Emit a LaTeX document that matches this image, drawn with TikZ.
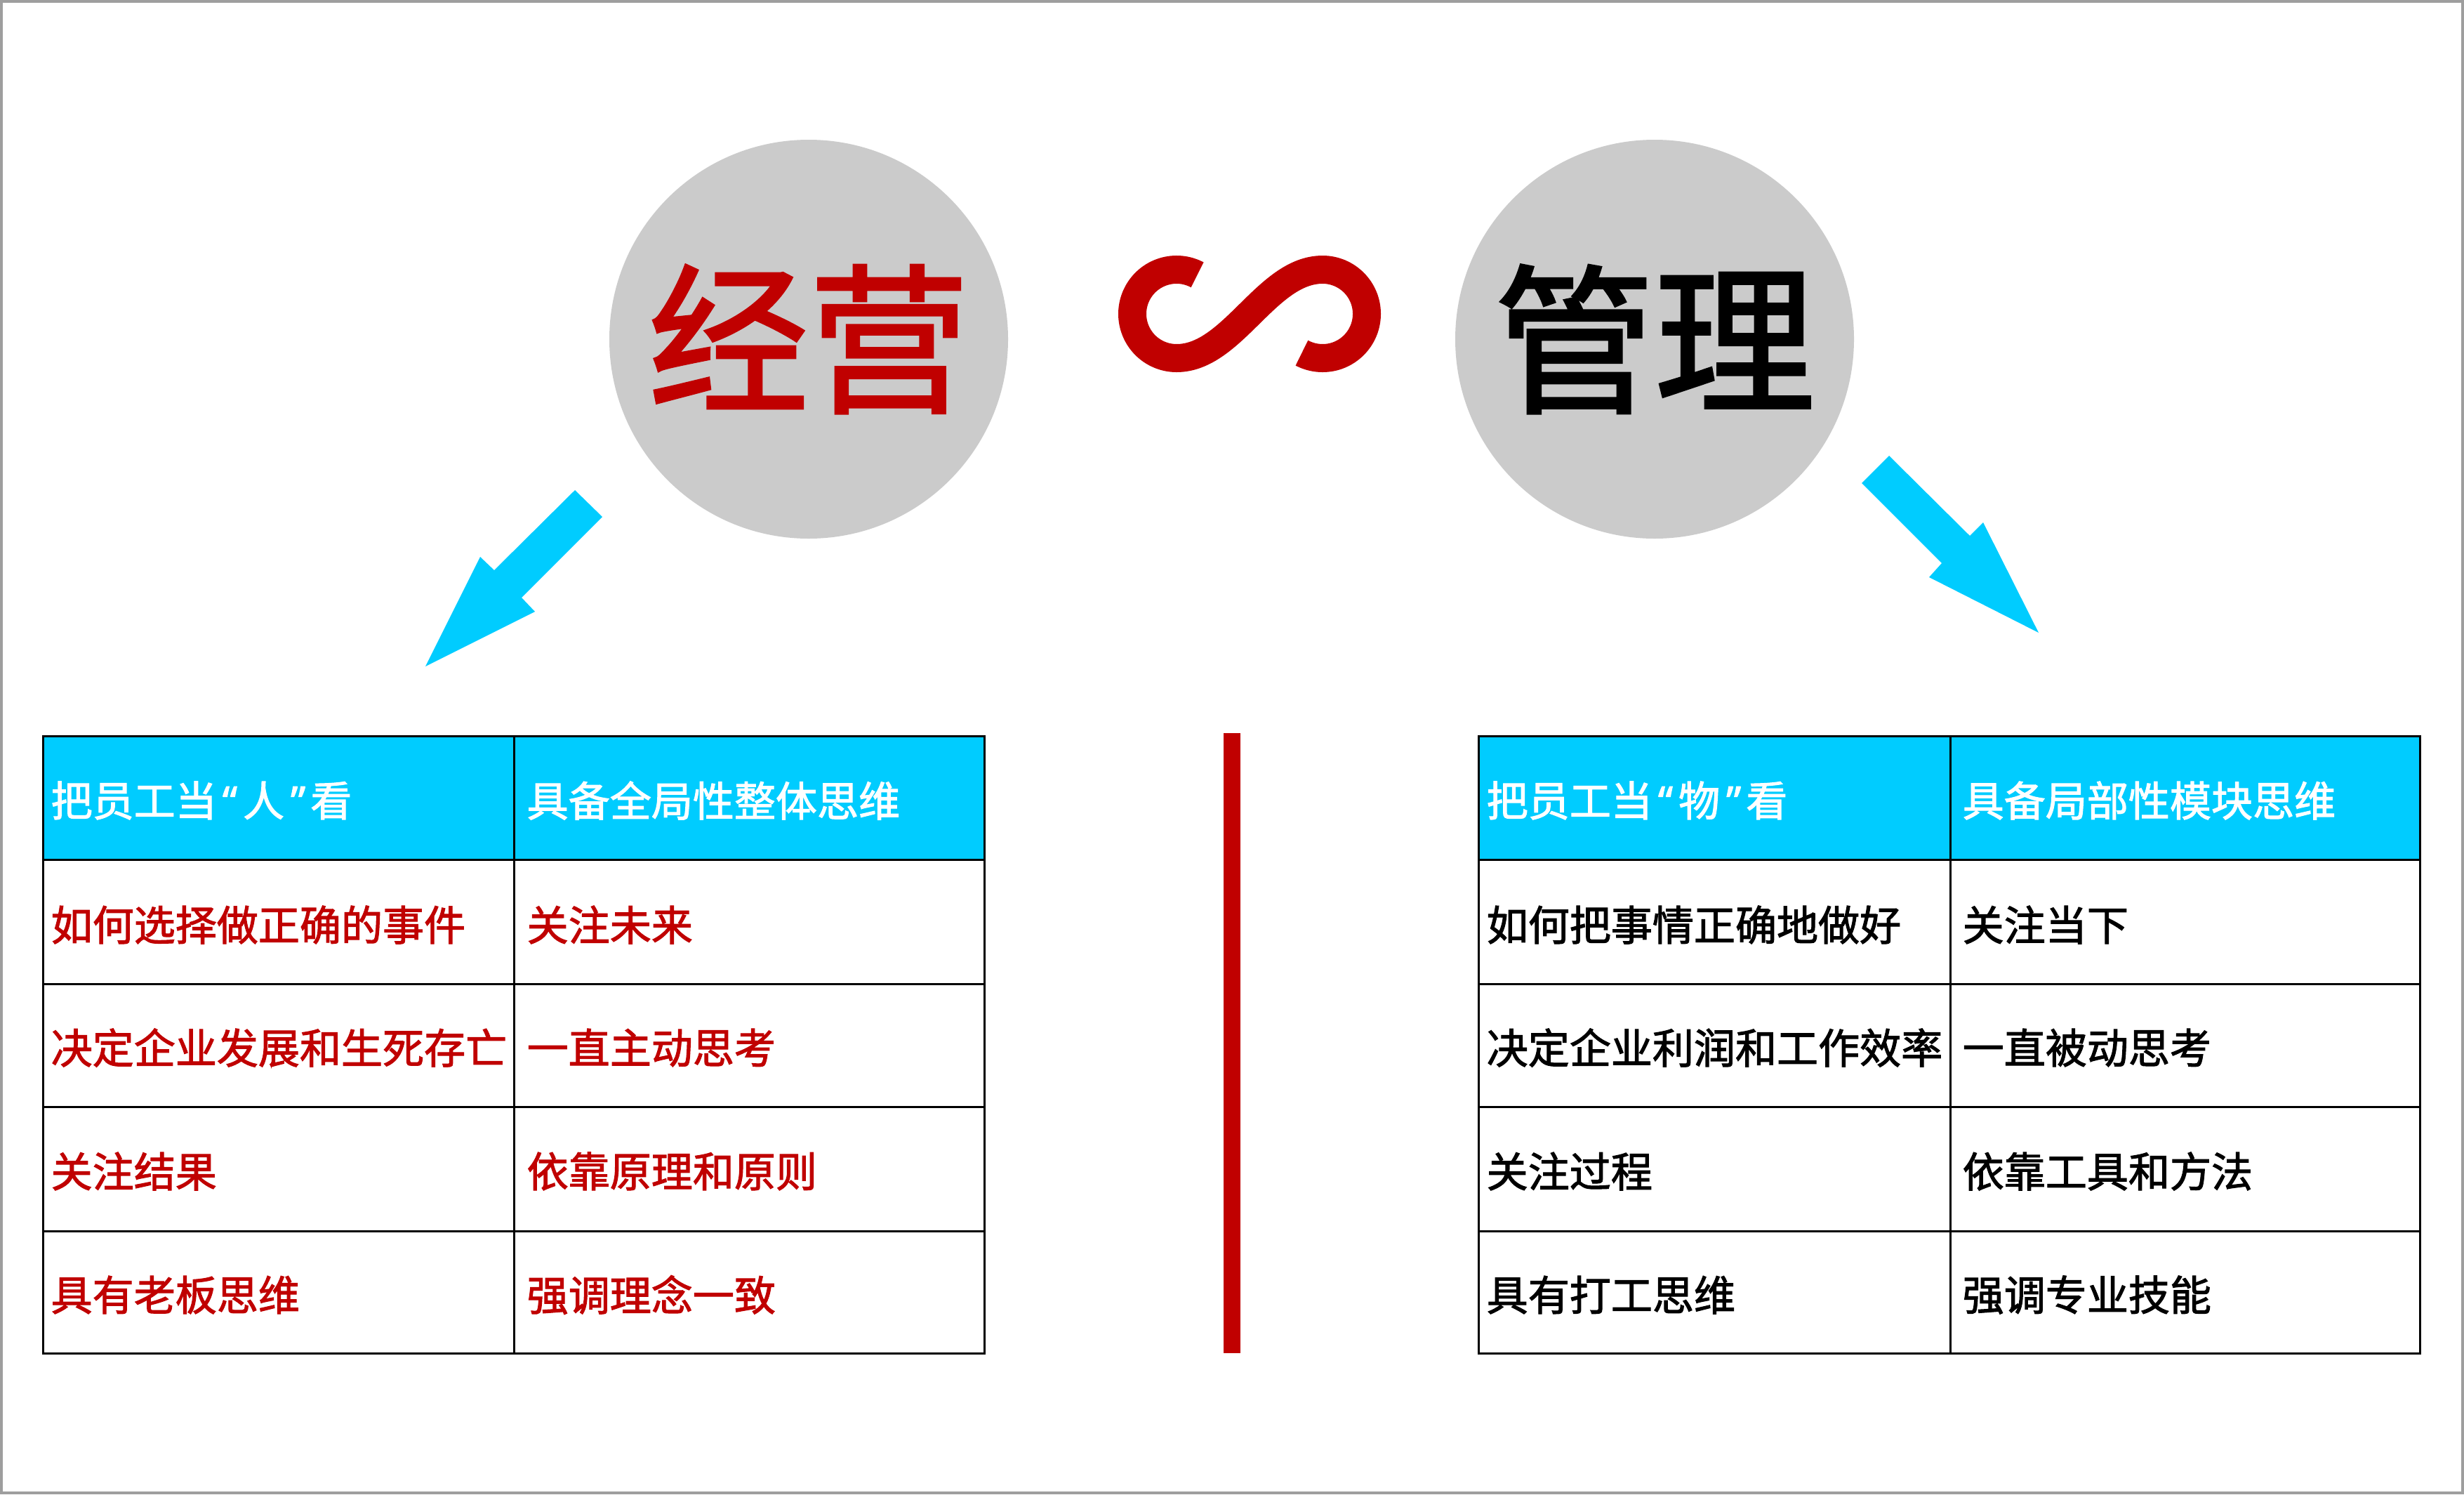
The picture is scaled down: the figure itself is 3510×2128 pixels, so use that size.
\documentclass[tikz,border=0pt]{standalone}
\usepackage{fontspec}
\newfontfamily\cjk[FakeBold=1.8]{Noto Sans CJK SC}
\newfontfamily\latq[FakeBold=1.8]{Noto Sans}
\newcommand{\myLq}{\hspace{0.8mm}{\latq “}\hspace{0.8mm}}
\newcommand{\myRq}{\hspace{0.9mm}{\latq ”}\hspace{0.7mm}}
\definecolor{myred}{HTML}{C00000}
\definecolor{mycyan}{HTML}{00CCFF}
\definecolor{mygrey}{HTML}{CBCBCB}
\definecolor{framegrey}{HTML}{9E9E9E}
\tikzset{
  cell/.style={anchor=west, inner sep=0pt, font=\cjk\fontsize{16.8}{20}\selectfont},
  hdr/.style={cell, text=white},
  lred/.style={cell, text=myred},
  rblk/.style={cell, text=black},
  bigc/.style={circle, fill=mygrey, minimum size=56.8mm, inner sep=0pt, font=\cjk\fontsize{65}{70}\selectfont},
  gridline/.style={line width=0.3mm, black},
  cyanarrow/.style={fill=mycyan},
}
\begin{document}
\begin{tikzpicture}[x=0.1mm,y=-0.1mm]
\useasboundingbox (0,0) rectangle (3510,2128);
\fill[white] (0,0) rectangle (3510,2128);
\draw[framegrey, line width=0.4mm] (2,2) rectangle (3508,2126);

% circles with titles
\node[bigc, text=myred] (jy) at (1152,483) {经营};
\node[bigc, text=black] (gl) at (2357,483) {管理};

% infinity symbol
\draw[myred, line width=4mm] (1676,447) ++(-62:63)
  arc[start angle=-62, end angle=-270, radius=63]
  .. controls +(80,0) and (1804,384) .. (1884,384)
  arc[start angle=-90, end angle=118, radius=63];

% arrows
\fill[cyanarrow] (819,698) -- (858,736) -- (743,851) -- (762,871) -- (606,949) -- (684,793) -- (704,812) -- cycle;
\fill[cyanarrow] (2691,649) -- (2652,688) -- (2766,802) -- (2748,822) -- (2904,901) -- (2825,744) -- (2806,763) -- cycle;

% red divider
\coordinate (dtop) at (1755,1044);
\coordinate (dbot) at (1755,1927);
\draw[myred, line width=2.4mm] (dtop) -- (dbot);

% left table
\fill[mycyan] (61,1048) rectangle (1402,1224);
\draw[gridline] (61,1048) rectangle (1402,1927);
\foreach \y in {1224,1401,1576,1753} \draw[gridline] (61,\y) -- (1402,\y);
\draw[gridline] (732,1048) -- (732,1927);

\node[hdr]  (la1) at (72,1140) {把员工当\myLq 人\myRq 看};
\node[hdr]  (lb1) at (750,1140) {具备全局性整体思维};
\node[lred] (la2) at (72,1317) {如何选择做正确的事件};
\node[lred] (lb2) at (750,1317) {关注未来};
\node[lred] (la3) at (72,1492) {决定企业发展和生死存亡};
\node[lred] (lb3) at (750,1492) {一直主动思考};
\node[lred] (la4) at (72,1668) {关注结果};
\node[lred] (lb4) at (750,1668) {依靠原理和原则};
\node[lred] (la5) at (72,1844) {具有老板思维};
\node[lred] (lb5) at (750,1844) {强调理念一致};

% right table
\fill[mycyan] (2106,1048) rectangle (3447,1224);
\draw[gridline] (2106,1048) rectangle (3447,1927);
\foreach \y in {1224,1401,1576,1753} \draw[gridline] (2106,\y) -- (3447,\y);
\draw[gridline] (2778,1048) -- (2778,1927);

\node[hdr]  (ra1) at (2117,1140) {把员工当\myLq 物\myRq 看};
\node[hdr]  (rb1) at (2795,1140) {具备局部性模块思维};
\node[rblk] (ra2) at (2117,1317) {如何把事情正确地做好};
\node[rblk] (rb2) at (2795,1317) {关注当下};
\node[rblk] (ra3) at (2117,1492) {决定企业利润和工作效率};
\node[rblk] (rb3) at (2795,1492) {一直被动思考};
\node[rblk] (ra4) at (2117,1668) {关注过程};
\node[rblk] (rb4) at (2795,1668) {依靠工具和方法};
\node[rblk] (ra5) at (2117,1844) {具有打工思维};
\node[rblk] (rb5) at (2795,1844) {强调专业技能};
\end{tikzpicture}
\end{document}
